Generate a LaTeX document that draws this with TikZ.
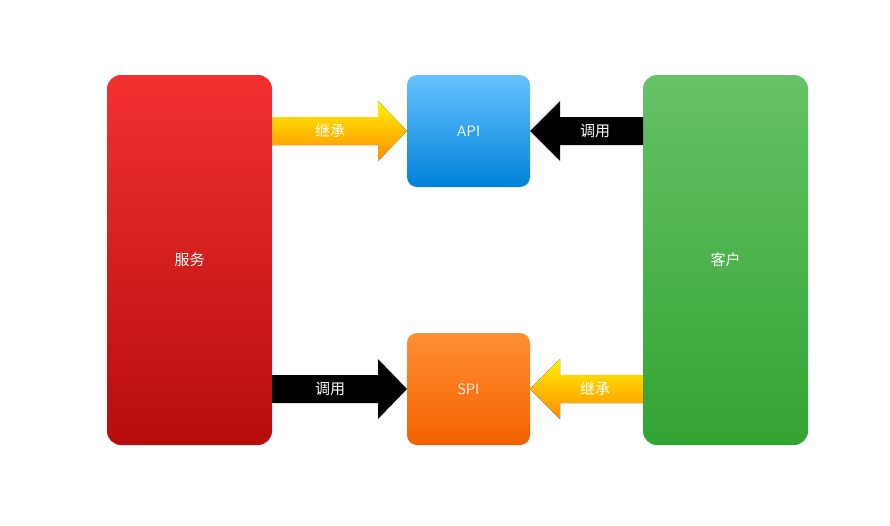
\documentclass[tikz,border=0pt]{standalone}
\usepackage{fontspec}
\newfontfamily\cjk{Noto Sans CJK SC}
\begin{document}
\begin{tikzpicture}[x=1pt,y=-1pt,
  box/.style={rounded corners=14pt,draw=none},
  lbl/.style={text=white,font=\cjk\fontsize{15}{15}\selectfont}]
\useasboundingbox (0,0) rectangle (890,525);
\shade[box,top color=red!80!white!95!black,bottom color=red!70!black!95] (107,75) rectangle (272,445);
\shade[box,top color=green!60!black!60!white,bottom color=green!55!black!80] (643,75) rectangle (808,445);
\shade[box,rounded corners=10pt,top color=cyan!60!blue!60!white,bottom color=cyan!60!blue!85!black] (407,75) rectangle (530,187);
\shade[box,rounded corners=10pt,top color=orange!90!red!80!white,bottom color=orange!80!red!95!black] (407,333) rectangle (530,445);
\node[lbl] (svc) at (189.5,260) {服务};
\node[lbl] (cli) at (725.5,260) {客户};
\node[lbl,font=\sffamily\fontsize{15}{15}\selectfont] (api) at (468.5,131) {API};
\node[lbl,font=\sffamily\fontsize{15}{15}\selectfont] (spi) at (468.5,389) {SPI};
% arrows
\fill[top color=yellow!90!orange,bottom color=orange!90!yellow] (272,117)--(378,117)--(378,101)--(407,131)--(378,161)--(378,145)--(272,145)--cycle;
\fill[black] (643,117)--(560,117)--(560,101)--(530,131)--(560,161)--(560,145)--(643,145)--cycle;
\fill[black] (272,375)--(378,375)--(378,359)--(407,389)--(378,419)--(378,403)--(272,403)--cycle;
\fill[top color=yellow!90!orange,bottom color=orange!90!yellow] (643,375)--(560,375)--(560,359)--(530,389)--(560,419)--(560,403)--(643,403)--cycle;
\node[lbl] at (330,131) {继承};
\node[lbl] at (595,131) {调用};
\node[lbl] at (330,389) {调用};
\node[lbl] at (595,389) {继承};
\end{tikzpicture}
\end{document}
